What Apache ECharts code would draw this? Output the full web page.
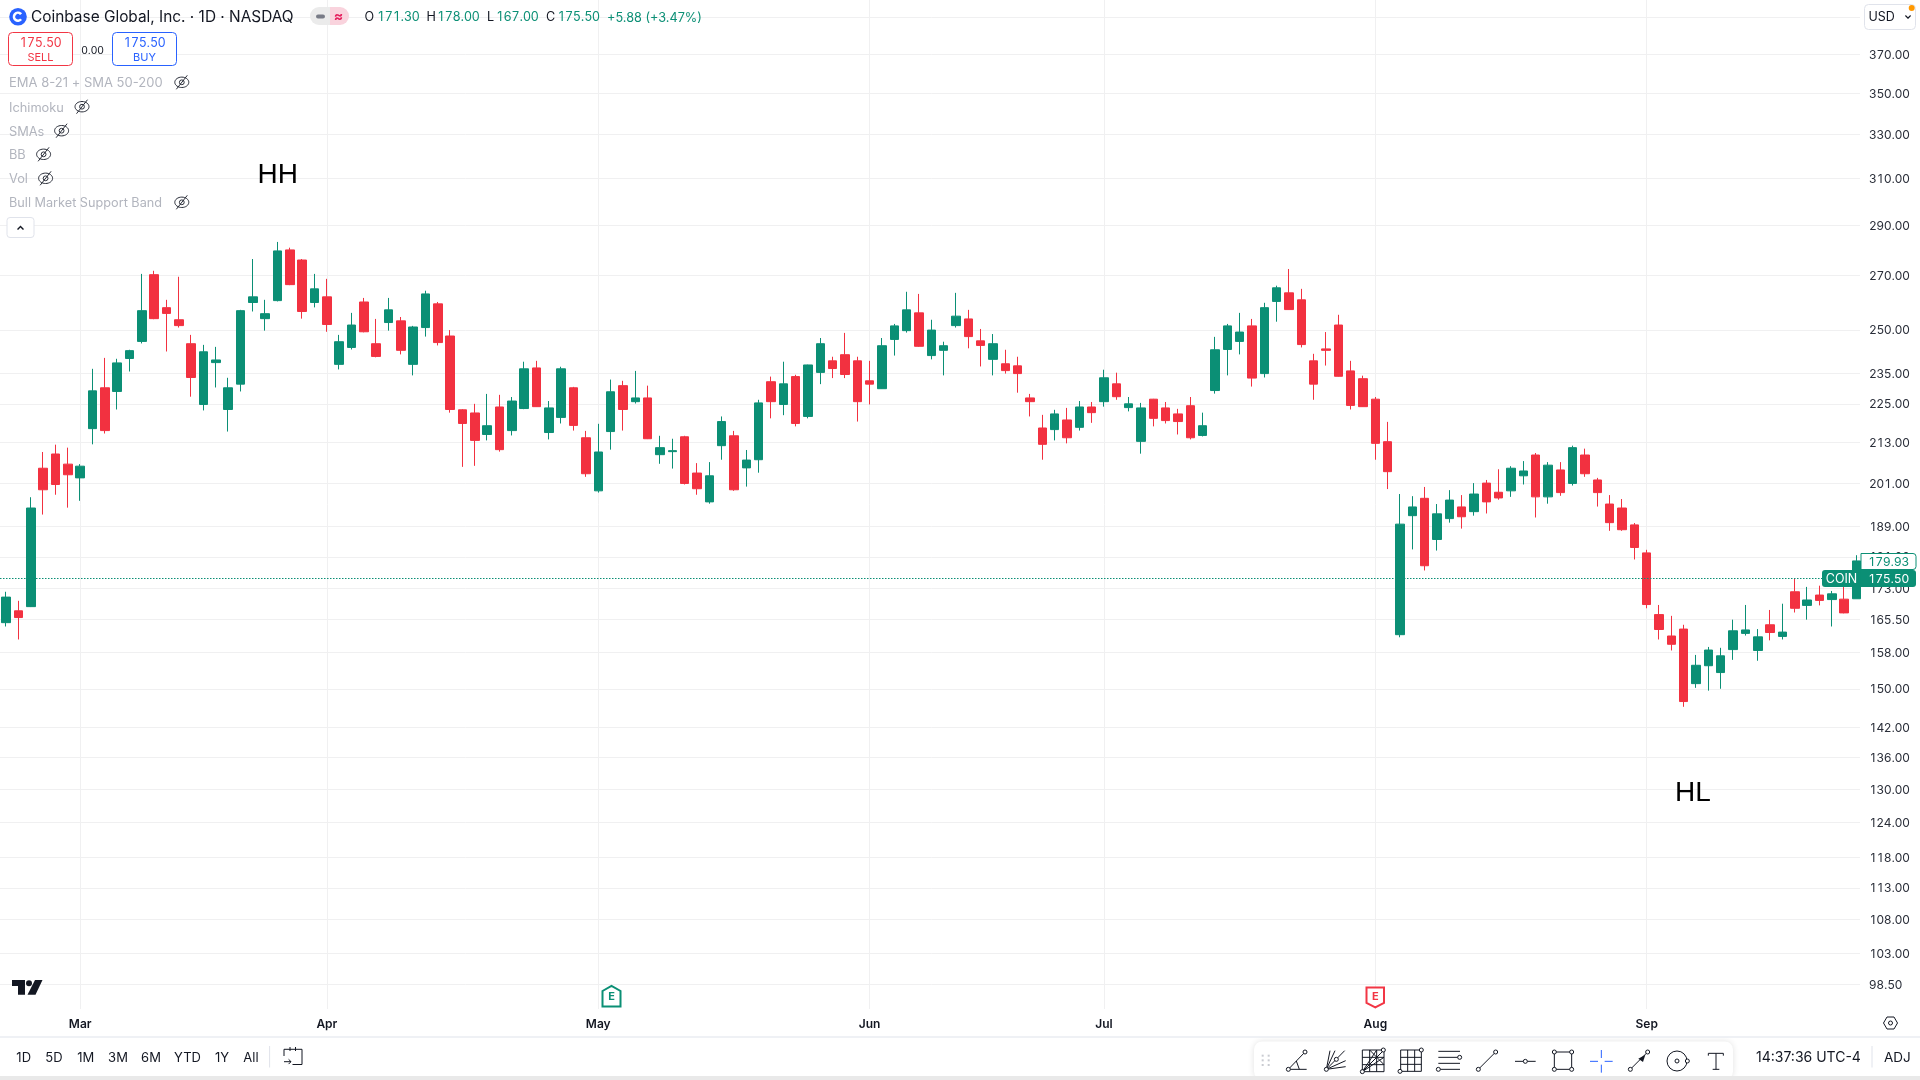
<!DOCTYPE html>
<html>
<head>
<meta charset="utf-8">
<title>Coinbase Global, Inc. daily chart</title>
<style>html,body{margin:0;padding:0;background:#fff}#chart{width:1920px;height:1080px}</style>
<script src="https://cdn.jsdelivr.net/npm/echarts@6/dist/echarts.min.js"></script>
</head>
<body>
<div id="chart"></div>
<script>
// Daily open, close, high and low for COIN, one entry per session.
const opens = [
  164.8,167.6,168.6,205.3,209.5,206.5,202.5,217.2,230.2,229.0,
  240.0,245.9,270.4,258.0,253.6,245.1,224.8,238.6,223.2,231.4,
  259.9,254.0,260.6,280.1,276.1,259.9,262.0,238.0,243.8,260.1,
  245.1,252.6,253.2,238.0,250.8,259.4,247.8,223.1,222.1,215.4,
  224.0,216.6,223.5,236.8,216.0,220.7,230.2,214.4,198.8,216.3,
  230.9,225.7,226.9,209.3,210.2,214.7,203.9,195.7,212.0,215.0,
  205.4,207.8,232.2,224.8,233.9,221.0,235.3,239.2,241.3,239.2,
  232.5,229.9,246.6,249.7,256.1,241.0,242.8,251.5,253.9,246.1,
  239.7,238.2,237.5,226.9,217.4,216.9,219.9,217.6,224.0,225.7,
  231.5,223.8,213.3,226.5,223.7,221.8,224.4,215.1,229.3,243.1,
  245.9,251.4,234.9,260.3,263.5,260.9,239.2,243.3,251.7,235.8,
  233.2,226.5,213.2,162.0,191.9,196.7,185.5,191.1,194.3,193.0,
  201.0,198.4,198.8,203.1,209.2,197.1,204.8,200.9,209.2,201.9,
  195.1,194.0,189.4,182.0,166.7,161.7,163.3,151.1,155.0,153.5,
  158.6,162.3,158.4,164.3,161.6,172.2,168.9,171.4,170.3,170.4,170.5
];
const closes = [
  170.9,166.0,194.0,199.1,200.6,203.4,205.9,229.2,216.6,238.5,
  242.7,256.9,254.0,255.9,251.5,233.6,242.3,239.5,230.2,256.9,
  262.0,255.8,279.7,266.6,256.6,265.0,251.9,245.8,251.7,249.3,
  240.7,257.2,242.8,251.0,263.1,245.5,223.2,218.8,213.6,218.1,
  210.8,225.9,236.5,224.1,223.7,236.5,218.2,203.7,210.1,228.9,
  223.2,226.9,214.1,211.4,210.5,200.9,199.4,203.1,219.4,199.1,
  207.7,225.3,225.7,231.5,218.8,237.8,245.1,236.6,234.6,225.7,
  231.4,244.4,251.4,257.2,244.2,249.9,244.4,254.9,247.6,244.5,
  245.1,235.9,234.9,225.7,212.4,221.8,214.4,224.0,222.2,233.5,
  227.3,225.0,223.7,220.4,219.7,219.4,214.4,218.1,243.0,251.4,
  249.2,233.4,258.0,265.4,257.3,244.8,231.4,242.8,234.0,224.5,
  224.1,212.7,204.3,189.6,194.3,178.7,192.4,196.2,191.6,197.9,
  195.7,196.8,205.3,204.5,197.1,206.2,198.3,211.4,203.7,198.3,
  190.0,188.1,183.4,169.1,163.2,159.8,147.3,155.1,158.5,157.2,
  162.9,163.1,161.5,162.5,162.6,168.2,170.2,170.1,171.7,167.1,179.93
];
const highs = [
  172.2,170.0,197.0,210.1,212.3,211.4,206.5,236.5,240.2,239.9,
  243.0,270.7,271.9,260.9,269.6,248.2,244.7,244.0,233.5,257.2,
  276.5,260.9,283.3,281.0,276.5,270.7,268.8,248.2,256.1,261.6,
  253.9,261.6,254.6,251.4,264.3,260.1,249.9,223.3,225.0,228.2,
  227.9,227.2,238.9,239.2,225.9,237.2,230.5,216.5,218.7,232.9,
  232.5,235.8,230.9,215.0,214.1,215.0,206.8,207.1,221.0,216.5,
  210.7,226.3,233.9,238.9,234.5,237.9,247.1,240.6,248.9,240.6,
  239.2,247.1,252.1,263.9,263.1,253.6,245.8,263.5,257.2,250.3,
  248.5,243.0,240.6,228.2,221.5,223.1,223.7,225.9,225.6,236.2,
  235.2,227.2,225.3,226.6,225.6,223.4,227.2,222.2,247.5,252.1,
  256.1,253.9,259.8,266.2,272.6,265.0,241.6,249.2,255.4,239.2,
  234.2,227.2,219.3,197.9,197.3,199.9,195.1,199.0,197.6,201.0,
  201.9,205.0,205.9,207.4,209.8,207.1,207.1,212.0,211.1,202.5,
  197.6,196.5,189.9,182.8,169.0,166.4,164.3,157.4,159.2,159.0,
  165.5,169.0,163.3,167.8,169.3,175.5,173.4,173.7,172.4,173.4,181.4
];
const lows = [
  163.9,160.9,168.5,192.2,197.7,194.1,196.0,212.4,215.7,223.2,
  235.6,245.2,253.8,242.4,250.8,227.3,222.9,230.3,216.3,229.0,
  256.6,249.7,260.3,266.4,254.0,258.1,249.3,236.3,243.1,249.1,
  240.4,249.7,241.4,234.3,247.6,244.5,222.2,205.7,206.0,213.6,
  210.2,215.1,223.3,224.0,213.9,218.8,216.6,202.8,198.3,210.8,
  216.6,225.1,214.0,206.6,205.2,200.6,197.7,195.2,207.8,198.8,
  200.0,204.0,220.4,221.4,217.9,220.4,231.4,233.4,233.4,219.4,
  224.8,229.8,241.0,249.0,244.0,239.7,234.3,250.8,243.5,237.3,
  234.3,234.9,228.6,221.0,207.8,213.6,212.7,216.6,219.0,224.1,
  226.3,222.6,209.6,217.9,218.8,215.4,213.9,214.8,228.3,234.3,
  241.4,230.6,233.6,252.9,257.2,243.8,226.3,237.6,233.9,223.2,
  224.0,207.8,199.3,161.4,182.9,177.5,182.6,190.0,188.4,191.9,
  192.5,196.3,197.1,200.6,191.4,195.2,197.4,200.3,202.8,194.4,
  187.8,187.8,180.3,168.2,160.9,158.4,146.2,150.2,149.6,150.0,
  156.3,161.8,156.1,160.7,160.9,167.2,165.5,168.9,163.9,167.0,170.5
];
// Session index of the first trading day of each month on the time scale.
const monthTicks = {6:'Mar',26:'Apr',48:'May',70:'Jun',89:'Jul',111:'Aug',133:'Sep'};
// Price levels shown on the logarithmic price scale.
const priceTicks = [390,370,350,330,310,290,270,250,235,225,213,201,189,181,173,165.5,158,150,142,136,130,124,118,113,108,103,98.5];
const lastPrice = 175.50;
const sessionLabels = opens.map((_, i) => String(i));
const candles = opens.map((o, i) => [o, closes[i], lows[i], highs[i]]);

const GREEN = '#0b8f75', RED = '#f23140', INK = '#131722', MUTED = '#b2b5be', BLUE = '#2962ff', FONT = 'Inter, "Noto Sans", sans-serif';

// Helpers for the chart furniture drawn around the price pane.
const el = [];
const txt = (x, y, text, fill, size, align, weight, family) => el.push({type:'text', x, y:y+1, z:100, silent:true, style:{
  text, fill: fill || INK, font:(weight||400)+' '+(size||13)+'px '+(family||FONT),
  textAlign: align||'left', textVerticalAlign:'middle', align: align||'left', verticalAlign:'middle'}});
// Prices use evenly pitched digits, so each character is placed on its own slot.
const DIGIT = 0.62, POINT = 0.28;
const num = (x, y, text, fill, size, align) => {
  const chars = String(text).split('');
  const wid = c => size * (c === '.' ? POINT : DIGIT);
  const total = chars.reduce((s, c) => s + wid(c), 0);
  let cur = align === 'center' ? x - total / 2 : x;
  chars.forEach(c => { txt(cur + wid(c) / 2, y, c, fill, size, 'center'); cur += wid(c); });
};
const box = (x, y, w, h, r, fill, stroke, lw, z) => el.push({type:'rect', z: z||99, silent:true,
  shape:{x, y, width:w, height:h, r}, style:{fill: fill||'transparent', stroke: stroke||null, lineWidth: lw==null?1:lw}});
const seg = (x1, y1, x2, y2, stroke, lw) => el.push({type:'line', z:100, silent:true,
  shape:{x1, y1, x2, y2}, style:{stroke: stroke||INK, lineWidth: lw||1}});
const dot = (x, y, r, fill, stroke, lw) => el.push({type:'circle', z:101, silent:true,
  shape:{cx:x, cy:y, r}, style:{fill: fill||'#fff', stroke: stroke||null, lineWidth: lw==null?1:lw}});
const poly = (pts, fill, stroke, lw) => el.push({type:'polygon', z:100, silent:true,
  shape:{points:pts}, style:{fill: fill||'transparent', stroke: stroke||null, lineWidth: lw==null?1:lw}});

// Tails of the horizontal grid lines stop at the edge of the pane.
box(1860, 0, 6, 1009, 0, '#fff', null, 0, 1);

// Symbol header.
dot(18, 16.7, 8.8, BLUE);
el.push({type:'arc', z:102, silent:true, shape:{cx:18, cy:16.7, r:4, startAngle:0.7, endAngle:5.6, clockwise:true}, style:{stroke:'#fff', fill:null, lineWidth:2.6}});
txt(31, 16.7, 'Coinbase Global, Inc. · 1D · NASDAQ', INK, 15.4);
box(310, 7, 20, 18, [9,0,0,9], '#ebebeb');
box(330, 7, 19, 18, [0,9,9,0], '#f9d3dd');
box(316, 14.5, 9, 4, 2, '#787b86');
txt(338.5, 15.5, '≈', '#e5205e', 14, 'center', 700);
[[364.5,'O',377,'171.30'],[426.6,'H',437,'178.00'],[487,'L',496,'167.00'],[546,'C',557.4,'175.50']].forEach(r => {
  txt(r[0], 16.7, r[1], INK, 12.6);
  num(r[2], 16.7, r[3], GREEN, 12.6);
});
txt(607, 16.7, '+5.88 (+3.47%)', GREEN, 12.7);

// Sell and buy quick-trade boxes.
box(8.5, 32.5, 64, 33, 4, '#fff', '#f23645');
num(40.5, 42.7, '175.50', '#f23645', 12.4, 'center');
txt(40.5, 57, 'SELL', '#f23645', 11, 'center');
num(92.6, 49.7, '0.00', INK, 10.5, 'center');
box(112.5, 32.5, 64, 33, 4, '#fff', BLUE);
num(144.5, 42.7, '175.50', BLUE, 12.4, 'center');
txt(144.5, 57, 'BUY', BLUE, 11, 'center');

// Hidden indicator legend with its struck-through eye icons.
[['EMA 8-21 + SMA 50-200',82.3,181.8,13],['Ichimoku',106.7,82,12.8],['SMAs',130.7,61.6,12.8],['BB',154.3,43.6,12.8],['Vol',178.3,45.6,12.8],['Bull Market Support Band',202.3,181.8,12.7]].forEach(r => {
  txt(9, r[1], r[0], MUTED, r[3]);
  el.push({type:'ellipse', z:100, silent:true, shape:{cx:r[2], cy:r[1], rx:7, ry:5.2}, style:{fill:'transparent', stroke:'#2a2e39', lineWidth:1}});
  dot(r[2], r[1], 2.4, 'transparent', '#2a2e39', 1);
  seg(r[2]-5.5, r[1]+7, r[2]+5.5, r[1]-7, '#2a2e39', 1);
});
box(7, 217.5, 27, 20, 3, '#fff', '#e0e3eb');
poly([[17,229],[20.5,225.5],[24,229],[23,230],[20.5,227.5],[18,230]], INK);

// Swing annotations.
txt(277.8, 174, 'HH', '#000', 28, 'center', 400, '"Liberation Sans", Arial, sans-serif');
txt(1693, 792, 'HL', '#000', 28, 'center', 400, '"Liberation Sans", Arial, sans-serif');

// Currency selector.
box(1864.5, 4.5, 51, 25, 4, '#fff', '#e0e3eb');
txt(1868.5, 16.7, 'USD', INK, 12.5);
poly([[1905,16],[1908,19],[1911,16],[1910.2,15],[1908,17.2],[1905.8,15]], INK);
dot(1911.7, 8, 3, '#ff9800');

// Price tags on the scale.
box(1861, 553.5, 55, 16, [0,3,3,0], '#fff', GREEN);
num(1888.5, 561, '179.93', GREEN, 12.2, 'center');
box(1822, 570, 38.5, 17, [3,0,0,3], GREEN);
txt(1841.5, 578, 'COIN', '#fff', 12.5, 'center');
box(1860.5, 570, 55.5, 17, [0,3,3,0], GREEN);
num(1888.5, 578, '175.50', '#fff', 12.2, 'center');

// Earnings markers above the time scale.
poly([[602.5,991],[611.5,986],[620.5,991],[620.5,1006.5],[602.5,1006.5]], '#fff', GREEN, 2);
txt(611.5, 996, 'E', GREEN, 11, 'center', 700);
poly([[1366.5,987.5],[1384,987.5],[1384,1003],[1375.3,1007.5],[1366.5,1003]], '#fff', '#f23645', 2);
txt(1375.3, 996, 'E', '#f23645', 11, 'center', 700);

// TradingView mark.
poly([[12,980],[25,980],[25,994.7],[18,994.7],[18,986],[12,986]], INK);
dot(29, 983.2, 3, INK);
poly([[35,980],[42.5,980],[35.5,994.7],[27.5,994.7]], INK);

// Scale settings icon.
poly([[1883.5,1023],[1887,1017],[1894,1017],[1897.5,1023],[1894,1029],[1887,1029]], '#fff', INK);
dot(1890.5, 1023, 2, '#fff', INK);

// Footer: divider, range buttons, clock.
box(0, 1036.5, 1920, 1, 0, '#e0e3eb');
box(0, 1076, 1920, 4, 0, '#e9e9e9');
[[23.7,'1D'],[54,'5D'],[85.7,'1M'],[118,'3M'],[151,'6M'],[187.5,'YTD'],[222,'1Y'],[251,'All']].forEach(r => txt(r[0], 1057.5, r[1], INK, 13, 'center'));
seg(269.6, 1046, 269.6, 1067.5, '#e0e3eb');
seg(284, 1049.3, 302, 1049.3); seg(290, 1047, 290, 1051); seg(295.5, 1047, 295.5, 1051);
seg(302, 1049.3, 302, 1064.5); seg(284, 1049.3, 284, 1056); seg(292.5, 1064.5, 302, 1064.5);
seg(284, 1061.7, 291, 1061.7); seg(288.6, 1059.3, 291, 1061.7); seg(288.6, 1064.1, 291, 1061.7);
txt(1756, 1057, '14:37:36 UTC-4', INK, 14);
seg(1872, 1046, 1872, 1067.5, '#e0e3eb');
txt(1884, 1057, 'ADJ', INK, 13.5);

// Floating drawing toolbar; icon coordinates are given at 3× for finer placement.
el.push({type:'rect', z:98, silent:true, shape:{x:1254, y:1041.5, width:479, height:38, r:8},
  style:{fill:'#fff', shadowBlur:6, shadowColor:'rgba(0,0,0,.12)', shadowOffsetY:0}});
const icon = (ox, parts, col) => parts.forEach(p => {
  const X = v => ox + v/3, Y = v => 1040 + v/3;
  if (p[0]==='l') seg(X(p[1]), Y(p[2]), X(p[3]), Y(p[4]), col||INK, 1);
  if (p[0]==='c') dot(X(p[1]), Y(p[2]), p[3]/3, '#fff', col||INK, 1);
  if (p[0]==='r') box(X(p[1]), Y(p[2]), (p[3]-p[1])/3, (p[4]-p[2])/3, 0, null, col||INK, 1, 100);
});
[26,44].forEach(x => [47,61,75].forEach(y => box(1254+x/3-1, 1040+y/3-1, 2, 2, 0, '#c9cbd1', null, 0, 100)));
icon(1254, [
  ['l',103,88,153,36],['l',103,88,158,88],['l',127,63,136,88],['c',103,88,6],['c',153,36,6],
  ['l',217,88,228,32],['l',217,88,243,32],['l',217,88,272,32],['l',217,88,275,62],['l',217,88,275,80],['c',217,88,6],['c',247,58,6],
  ['r',325,30,390,95],['l',347,30,347,95],['l',368,30,368,95],['l',325,52,390,52],['l',325,74,390,74],['l',325,95,390,30],['l',325,95,368,30],['l',325,95,390,52],['l',347,30,390,74],['c',325,95,6],['c',388,30,6],
  ['r',440,30,502,94],['l',461,30,461,94],['l',482,30,482,94],['l',440,52,502,52],['l',440,73,502,73],['c',438,94,6],['c',502,30,6],
  ['l',553,34,618,34],['l',553,52,618,52],['l',553,70,618,70],['l',553,88,618,88],['c',617,52,6],['c',553,88,6],
  ['l',673,88,725,36],['c',673,88,6],['c',725,36,6]
]);
icon(1500, [
  ['l',45,64,107,64],['c',76,64,6],
  ['r',163,36,215,88],['c',163,36,6],['c',215,36,6],['c',163,88,6],['c',215,88,6],
  ['l',391,88,443,36],['c',391,88,6],['c',443,36,6],
  ['c',531,63,30],['c',531,63,6],['c',562,63,6],
  ['l',625,40,670,40],['l',648,40,648,88],['l',638,88,658,88],['l',625,40,625,47],['l',670,40,670,47]
]);
poly([[1500+415/3,1040+56/3],[1500+436/3,1040+44/3],[1500+429/3,1040+66/3]], INK);
icon(1500, [['l',304,30,304,54],['l',304,74,304,98],['l',270,64,294,64],['l',314,64,338,64]], BLUE);

// Price-scale labels with the same even digit pitch as the tags.
const axisDigit = {width:7.45, align:'center', color:'#2a2e39', fontFamily:FONT, fontSize:12};
const axisPoint = {width:3.4, align:'center', color:'#2a2e39', fontFamily:FONT, fontSize:12};
const priceLabel = (v) => Number(v).toFixed(2).split('').map(c => c === '.' ? '{p|.}' : '{d|'+c+'}').join('');

const chart = echarts.init(document.getElementById('chart'), null, {renderer:'canvas'});
chart.setOption({
  animation:false,
  backgroundColor:'#fff',
  grid:{left:0, top:0, width:1862.6, bottom:71, containLabel:false},
  xAxis:{
    type:'category', data:sessionLabels, boundaryGap:true,
    axisLine:{show:false}, axisTick:{show:false},
    axisLabel:{interval:(i)=>i in monthTicks, formatter:(v,i)=>monthTicks[i]||'', margin:9, color:INK, fontFamily:FONT, fontSize:12, fontWeight:600},
    splitLine:{show:true, interval:(i)=>i in monthTicks, alignWithLabel:true, lineStyle:{color:'#f0f0f1', width:1}}
  },
  yAxis:{
    type:'log', logBase:10, position:'right', min:95.10, max:399.73,
    axisLine:{show:false},
    axisTick:{show:false, customValues:priceTicks},
    axisLabel:{customValues:priceTicks, formatter:priceLabel, margin:6.5, align:'left', padding:[2,0,0,0], rich:{d:axisDigit, p:axisPoint}},
    splitLine:{show:true, lineStyle:{color:'#f0f0f1', width:1}}
  },
  series:[{
    type:'candlestick', data:candles, barWidth:9, z:2,
    itemStyle:{color:GREEN, color0:RED, borderColor:GREEN, borderColor0:RED, borderColorDoji:GREEN, borderWidth:1},
    markLine:{
      silent:true, symbol:'none', animation:false,
      label:{show:false},
      lineStyle:{color:GREEN, type:[1.5,1.5], width:1},
      data:[{yAxis:lastPrice}]
    }
  }],
  graphic:{elements:el}
});
</script>
</body>
</html>
